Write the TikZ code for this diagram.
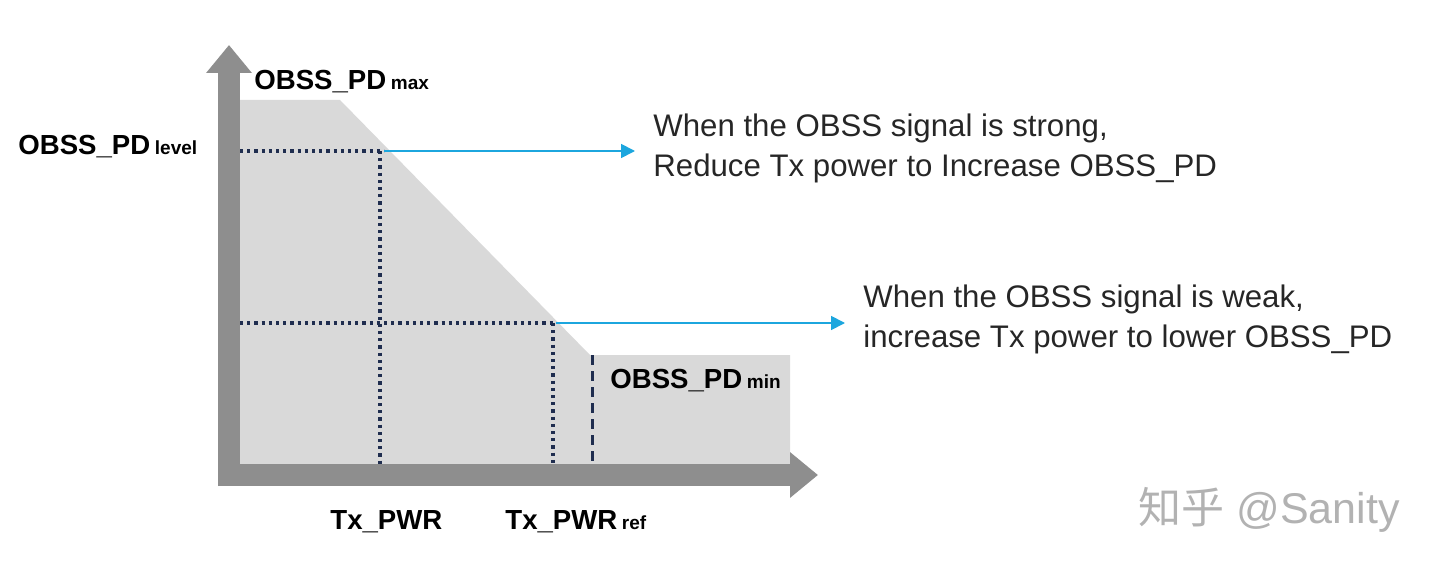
\documentclass[tikz,border=0pt]{standalone}
\usepackage{fontspec}
\setmainfont{Liberation Sans}
\newfontfamily\cjk{Noto Sans CJK SC}
\usetikzlibrary{arrows.meta}
\definecolor{areagray}{HTML}{D9D9D9}
\definecolor{axisgray}{HTML}{8E8E8E}
\definecolor{navy}{HTML}{1F2D4F}
\definecolor{cyanarrow}{HTML}{1CA6DE}
\tikzset{
  lbl/.style={font=\bfseries\fontsize{13.8}{15}\selectfont, anchor=west, inner sep=0},
  body/.style={font=\fontsize{15.6}{20}\selectfont, anchor=north west, align=left, inner sep=0, text=black!85},
  dots/.style={navy, line width=1.6pt, dotted},
  ptr/.style={cyanarrow, line width=0.9pt, -{Triangle[length=7pt,width=7pt]}},
  axis/.style={axisgray, line width=11pt, -{Triangle[length=14pt,width=22pt]}}
}
\begin{document}
\begin{tikzpicture}[x=0.5pt,y=-0.5pt]
\useasboundingbox (0,0) rectangle (1440,572);
\fill[areagray] (240,100) -- (340,100) -- (590,355) -- (790,355) -- (790,466) -- (240,466) -- cycle;
\draw[axis] (229,486) -- (229,45);
\draw[axis] (218,475) -- (818,475);
\coordinate (a1) at (384,151);
\coordinate (a2) at (556,323);
\draw[dots] (240,151) -- (a1);
\draw[dots] (380,151) -- (380,465);
\draw[dots] (240,323) -- (a2);
\draw[dots] (553,323) -- (553,465);
\draw[navy, line width=1.5pt, dash pattern=on 5pt off 3pt] (592,355) -- (592,465);
\node[body] (t1) at (653,113) {When the OBSS signal is strong,\\Reduce Tx power to Increase OBSS\_PD};
\node[body] (t2) at (863,284) {When the OBSS signal is weak,\\increase Tx power to lower OBSS\_PD};
\draw[ptr] (a1) -- (635,151);
\draw[ptr] (a2) -- (845,323);
\node[lbl] (m) at (254,82) {OBSS\_PD\,{\fontsize{9.5}{10}\selectfont max}};
\node[lbl] (l) at (18,147) {OBSS\_PD\,{\fontsize{9.5}{10}\selectfont level}};
\node[lbl] (n) at (610,381) {OBSS\_PD\,{\fontsize{9.5}{10}\selectfont min}};
\node[lbl] (p) at (330,522) {Tx\_PWR};
\node[lbl] (r) at (505,522) {Tx\_PWR\,{\fontsize{9.5}{10}\selectfont ref}};
\node[anchor=west, inner sep=0, text=black!30, font=\fontsize{21.5}{24}\selectfont] (w) at (1138,510) {{\cjk 知乎} @Sanity};
\end{tikzpicture}
\end{document}
